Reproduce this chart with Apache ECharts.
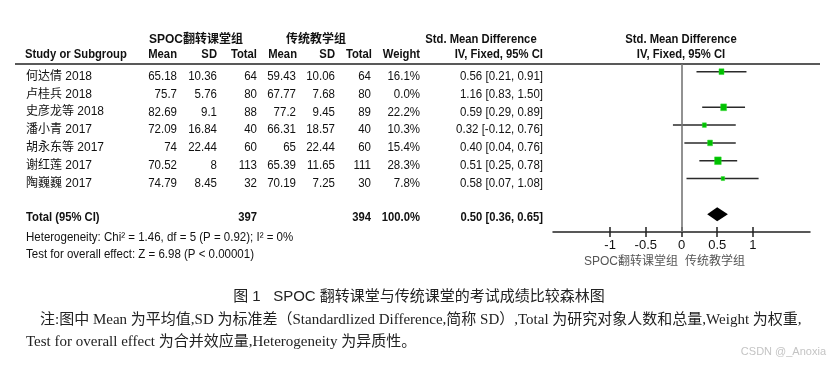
<!DOCTYPE html>
<html><head><meta charset="utf-8">
<script src="https://cdn.jsdelivr.net/npm/echarts@6/dist/echarts.min.js"></script>
<style>html,body{margin:0;padding:0;background:#fff}#c{width:838px;height:366px}</style>
</head><body><div id="c"></div>
<script>
// ---------- data ----------
const studies = ['何达倩 2018','卢桂兵 2018','史彦龙等 2018','潘小青 2017','胡永东等 2017','谢红莲 2017','陶巍巍 2017'];
const expMean = [65.18, 75.7, 82.69, 72.09, 74, 70.52, 74.79];
const expSD = [10.36, 5.76, 9.1, 16.84, 22.44, 8, 8.45];
const expTotal = [64, 80, 88, 40, 60, 113, 32];
const ctlMean = [59.43, 67.77, 77.2, 66.31, 65, 65.39, 70.19];
const ctlSD = [10.06, 7.68, 9.45, 18.57, 22.44, 11.65, 7.25];
const ctlTotal = [64, 80, 89, 40, 60, 111, 30];
const weights = [16.1, 0.0, 22.2, 10.3, 15.4, 28.3, 7.8];
const smd = [0.56, 1.16, 0.59, 0.32, 0.40, 0.51, 0.58];
const ciLow = [0.21, 0.83, 0.29, -0.12, 0.04, 0.25, 0.07];
const ciHigh = [0.91, 1.50, 0.89, 0.76, 0.76, 0.78, 1.08];
const totalExp = 397, totalCtl = 394, totalWeight = 100.0;
const pooled = 0.50, pooledLow = 0.36, pooledHigh = 0.65;
const xTicks = [-1, -0.5, 0, 0.5, 1];
const groupExp = 'SPOC翻转课堂组', groupCtl = '传统教学组';
const heteroText = 'Heterogeneity: Chi² = 1.46, df = 5 (P = 0.92); I² = 0%';
const overallText = 'Test for overall effect: Z = 6.98 (P < 0.00001)';
const captionText = '图 1   SPOC 翻转课堂与传统课堂的考试成绩比较森林图';
const note1 = '注:图中 Mean 为平均值,SD 为标准差（Standardlized Difference,简称 SD）,Total 为研究对象人数和总量,Weight 为权重,';
const note2 = 'Test for overall effect 为合并效应量,Heterogeneity 为异质性。';
const watermark = 'CSDN @_Anoxia';

// ---------- chart ----------
const chart = echarts.init(document.getElementById('c'));
const TOTAL_ROW = 8;
const X_MIN = -1.8, X_MAX = 1.8, Y_MIN = -0.43, Y_MAX = 9;
const green = '#00c000';

const sq = [];
for (let i = 0; i < studies.length; i++) if (weights[i] > 0) sq.push([smd[i], i, weights[i]]);
const ci = [];
for (let i = 0; i < studies.length; i++) if (weights[i] > 0) ci.push([ciLow[i], ciHigh[i], i]);

chart.setOption({
  animation: false,
  grid: {left: 553, width: 257, top: 64, height: 168},
  xAxis: [{
    type: 'value', min: X_MIN, max: X_MAX, position: 'bottom',
    splitLine: {show: false},
    axisLine: {show: true, onZero: false, lineStyle: {color: '#222', width: 1.5}},
    axisTick: {show: true, customValues: xTicks, length: 5, inside: false, lineStyle: {color: '#222', width: 1.5}},
    axisLabel: {show: true, customValues: xTicks, margin: 7, color: '#111', fontSize: 13, fontFamily: 'Liberation Sans, Arial',
      formatter: v => String(v)}
  }, {
    type: 'value', min: X_MIN, max: X_MAX, position: 'bottom',
    splitLine: {show: false}, axisLine: {show: false, onZero: false}, axisLabel: {show: false},
    axisTick: {show: true, customValues: xTicks, length: 5, inside: true, lineStyle: {color: '#222', width: 1.5}}
  }],
  yAxis: {type: 'value', inverse: true, min: Y_MIN, max: Y_MAX, show: false},
  series: [{
    type: 'custom',
    data: ci,
    encode: {x: [0, 1], y: 2},
    renderItem: (params, api) => {
      const a = api.coord([api.value(0), api.value(2)]);
      const b = api.coord([api.value(1), api.value(2)]);
      return {type: 'line', shape: {x1: a[0], y1: a[1], x2: b[0], y2: b[1]},
        style: {stroke: '#2a2a2a', lineWidth: 1.5}};
    },
    z: 2
  }, {
    type: 'scatter',
    data: sq,
    symbol: 'rect',
    symbolSize: v => { const s = Math.sqrt(v[2]) * 1.25; return [s, s * 1.15]; },
    itemStyle: {color: green, borderColor: '#33dd33', borderWidth: 0.5, opacity: 1},
    z: 3,
    markLine: {
      silent: true, symbol: 'none', label: {show: false},
      lineStyle: {color: '#777', width: 1.6, type: 'solid'},
      data: [{xAxis: 0}]
    }
  }, {
    type: 'custom',
    data: [[pooled, pooledLow, pooledHigh, TOTAL_ROW]],
    encode: {x: [1, 2], y: 3},
    renderItem: (params, api) => {
      const l = api.coord([api.value(1), api.value(3)]);
      const c = api.coord([api.value(0), api.value(3)]);
      const r = api.coord([api.value(2), api.value(3)]);
      const h = 7;
      return {type: 'polygon', shape: {points: [l, [c[0], c[1] - h], r, [c[0], c[1] + h]]},
        style: {fill: '#000'}};
    },
    z: 3
  }]
});

// ---------- table text (positions derived from the y axis) ----------
const F = '"Liberation Sans", Arial, "Noto Sans CJK SC", sans-serif';
function T(text, x, y, align, size, bold, fill, family, sx) {
  return {
    type: 'text', x: x, y: y, silent: true, scaleX: sx || 1,
    style: {text: text, x: 0, y: 0, textAlign: align, align: align, textVerticalAlign: 'middle', verticalAlign: 'middle',
      font: (bold ? 'bold ' : '') + size + 'px ' + (family || F), fill: fill || '#111'}
  };
}
const N = (text, x, y, align, bold) => T(text, x, y, align, 12.5, bold, '#111', F, bold ? 0.9 : 0.92);
const rowY = i => chart.convertToPixel({yAxisIndex: 0}, i) + 4.8;
const g = [];
// group headers
g.push(T(groupExp, 196, 40, 'center', 12, true, '#111', F));
g.push(T(groupCtl, 316, 40, 'center', 12, true, '#111', F));
g.push(N('Std. Mean Difference', 481, 40, 'center', true));
g.push(N('Std. Mean Difference', 681, 40, 'center', true));
// column headers
g.push(N('Study or Subgroup', 25, 55, 'left', true));
g.push(N('Mean', 177, 55, 'right', true));
g.push(N('SD', 217, 55, 'right', true));
g.push(N('Total', 257, 55, 'right', true));
g.push(N('Mean', 297, 55, 'right', true));
g.push(N('SD', 335, 55, 'right', true));
g.push(N('Total', 372, 55, 'right', true));
g.push(N('Weight', 420, 55, 'right', true));
g.push(N('IV, Fixed, 95% CI', 543, 55, 'right', true));
g.push(N('IV, Fixed, 95% CI', 681, 55, 'center', true));
// header rule
g.push({type: 'line', silent: true, shape: {x1: 15, y1: 64, x2: 820, y2: 64}, style: {stroke: '#222', lineWidth: 1.5}});
// rows
for (let i = 0; i < studies.length; i++) {
  const y = rowY(i);
  g.push(T(studies[i], 26, y, 'left', 12, false, '#111', F));
  g.push(N(String(expMean[i]), 177, y, 'right'));
  g.push(N(String(expSD[i]), 217, y, 'right'));
  g.push(N(String(expTotal[i]), 257, y, 'right'));
  g.push(N(String(ctlMean[i]), 296, y, 'right'));
  g.push(N(String(ctlSD[i]), 335, y, 'right'));
  g.push(N(String(ctlTotal[i]), 371, y, 'right'));
  g.push(N(weights[i].toFixed(1) + '%', 420, y, 'right'));
  g.push(N(smd[i].toFixed(2) + ' [' + ciLow[i].toFixed(2) + ', ' + ciHigh[i].toFixed(2) + ']', 543, y, 'right'));
}
const ty = chart.convertToPixel({yAxisIndex: 0}, TOTAL_ROW) + 3.8;
g.push(N('Total (95% CI)', 26, ty, 'left', true));
g.push(N(String(totalExp), 257, ty, 'right', true));
g.push(N(String(totalCtl), 371, ty, 'right', true));
g.push(N(totalWeight.toFixed(1) + '%', 420, ty, 'right', true));
g.push(N(pooled.toFixed(2) + ' [' + pooledLow.toFixed(2) + ', ' + pooledHigh.toFixed(2) + ']', 543, ty, 'right', true));
g.push(N(heteroText, 26, 237.5, 'left'));
g.push(N(overallText, 26, 254.5, 'left'));
// favours labels
g.push(T(groupExp, 631, 262, 'center', 12, false, '#555', F));
g.push(T(groupCtl, 715, 262, 'center', 12, false, '#555', F));
// caption & notes
const serifCJK = '"Liberation Serif", "Noto Sans CJK SC", serif';
g.push(T(captionText, 419, 297, 'center', 15, false, '#222', F));
g.push(T(note1, 40, 320, 'left', 15, false, '#222', serifCJK));
g.push(T(note2, 26, 342, 'left', 15, false, '#222', serifCJK));
g.push(T(watermark, 826, 352, 'right', 11, false, '#c4c4c4', '"Liberation Sans", sans-serif'));
chart.setOption({graphic: {elements: g}});
</script></body></html>
